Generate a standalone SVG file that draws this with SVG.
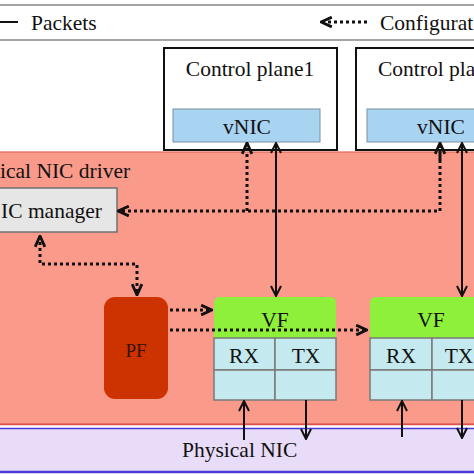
<svg xmlns="http://www.w3.org/2000/svg" width="474" height="474" viewBox="0 0 474 474">
<defs>
<style>
text{font-family:"Liberation Serif","Times New Roman",serif;fill:#111}
.t18{font-size:21.5px}
.dot{fill:none;stroke:#111;stroke-width:3;stroke-dasharray:3 3}
.sol{fill:none;stroke:#111;stroke-width:2}
.cell{fill:#c4e9ef;stroke:#7a7a7a;stroke-width:1.5}
</style>
<marker id="ahs" viewBox="0 0 12 12" refX="11" refY="6" markerWidth="12" markerHeight="12" orient="auto-start-reverse" markerUnits="userSpaceOnUse">
<path d="M1,1 L11,6 L1,11" fill="none" stroke="#111" stroke-width="2"/>
</marker>
<marker id="ahd" viewBox="0 0 12 12" refX="11" refY="6" markerWidth="13" markerHeight="13" orient="auto-start-reverse" markerUnits="userSpaceOnUse">
<path d="M1,1.5 L11,6 L1,10.5" fill="none" stroke="#111" stroke-width="2.6"/>
</marker>
</defs>
<rect width="474" height="474" fill="#ffffff"/>
<g id="legend">
<line x1="0" y1="5" x2="474" y2="5" stroke="#888" stroke-width="1.5"/>
<line x1="0" y1="40" x2="474" y2="40" stroke="#888" stroke-width="1.5"/>
<line x1="0" y1="22" x2="18" y2="22" stroke="#111" stroke-width="2"/>
<text x="31" y="30" class="t18">Packets</text>
<line x1="367" y1="22" x2="321" y2="22" class="dot" marker-end="url(#ahd)"/>
<text x="380" y="30" class="t18">Configurat</text>
</g>
<g id="driver">
<rect x="-2" y="152" width="480" height="272" fill="#fa9a8a" stroke="#de6a58" stroke-width="1.2"/>
<text x="0" y="178" class="t18">ical NIC driver</text>
</g>
<g id="physical-nic">
<rect x="-2" y="428" width="480" height="44" fill="#e8dcf8"/>
<line x1="0" y1="424.5" x2="474" y2="424.5" stroke="#e05048" stroke-width="1.5"/>
<line x1="0" y1="428.5" x2="474" y2="428.5" stroke="#4a3ad6" stroke-width="1.5"/>
<line x1="0" y1="472" x2="474" y2="472" stroke="#4a3ad6" stroke-width="2.5"/>
<text x="182" y="457" class="t18">Physical NIC</text>
</g>
<g id="control-plane1">
<rect x="164" y="48" width="173" height="102" fill="#fff" stroke="#111" stroke-width="2"/>
<text x="250" y="76" class="t18" text-anchor="middle">Control plane1</text>
<rect x="173" y="109" width="147" height="33" fill="#a8d4f2" stroke="#7a8ea0" stroke-width="1"/>
<text x="247" y="134" class="t18" text-anchor="middle">vNIC</text>
</g>
<g id="control-plane2">
<rect x="356" y="48" width="130" height="102" fill="#fff" stroke="#111" stroke-width="2"/>
<text x="378" y="76" class="t18">Control pla</text>
<rect x="367" y="109" width="120" height="33" fill="#a8d4f2" stroke="#7a8ea0" stroke-width="1"/>
<text x="441" y="134" class="t18" text-anchor="middle">vNIC</text>
</g>
<g id="nic-manager">
<rect x="-3" y="188" width="120" height="44" fill="#e6e6e6" stroke="#707070" stroke-width="1.5"/>
<text x="1" y="218" class="t18">IC manager</text>
</g>
<g id="pf">
<rect x="104" y="297" width="64" height="102" rx="11" fill="#cc3300"/>
<text x="136" y="357" text-anchor="middle" style="font-size:19px;fill:#3a1208">PF</text>
</g>
<g id="vf1">
<path d="M214,338 V303 Q214,297 220,297 H330 Q336,297 336,303 V338 Z" fill="#8ef03a"/>
<text x="275" y="327" class="t18" text-anchor="middle">VF</text>
<rect x="214" y="338" width="61" height="32" class="cell"/>
<rect x="275" y="338" width="61" height="32" class="cell"/>
<rect x="214" y="370" width="61" height="30" class="cell"/>
<rect x="275" y="370" width="61" height="30" class="cell"/>
<text x="244" y="363" class="t18" text-anchor="middle">RX</text>
<text x="306" y="363" class="t18" text-anchor="middle">TX</text>
</g>
<g id="vf2">
<path d="M370,338 V303 Q370,297 376,297 H490 V338 Z" fill="#8ef03a"/>
<text x="431" y="327" class="t18" text-anchor="middle">VF</text>
<rect x="370" y="338" width="62" height="32" class="cell"/>
<rect x="432" y="338" width="62" height="32" class="cell"/>
<rect x="370" y="370" width="62" height="30" class="cell"/>
<rect x="432" y="370" width="62" height="30" class="cell"/>
<text x="401" y="363" class="t18" text-anchor="middle">RX</text>
<text x="459" y="363" class="t18" text-anchor="middle">TX</text>
</g>
<g id="connectors">
<path d="M440,154 V211 H118" class="dot" marker-end="url(#ahd)"/>
<path d="M247,211 V143" class="dot" marker-end="url(#ahd)"/>
<path d="M440,160 V143" class="dot" marker-end="url(#ahd)"/>
<path d="M40,236 V264 H137 V295" class="dot" marker-start="url(#ahd)" marker-end="url(#ahd)"/>
<line x1="170" y1="310" x2="212" y2="310" class="dot" marker-end="url(#ahd)"/>
<line x1="170" y1="330" x2="367" y2="330" class="dot" marker-end="url(#ahd)"/>
<line x1="276" y1="143" x2="276" y2="296" class="sol" marker-start="url(#ahs)" marker-end="url(#ahs)"/>
<line x1="462" y1="143" x2="462" y2="296" class="sol" marker-start="url(#ahs)" marker-end="url(#ahs)"/>
<line x1="244" y1="440" x2="244" y2="401" class="sol" marker-end="url(#ahs)"/>
<line x1="306" y1="400" x2="306" y2="439" class="sol" marker-end="url(#ahs)"/>
<line x1="402" y1="437" x2="402" y2="401" class="sol" marker-end="url(#ahs)"/>
<line x1="462" y1="400" x2="462" y2="438" class="sol" marker-end="url(#ahs)"/>
</g>
</svg>
